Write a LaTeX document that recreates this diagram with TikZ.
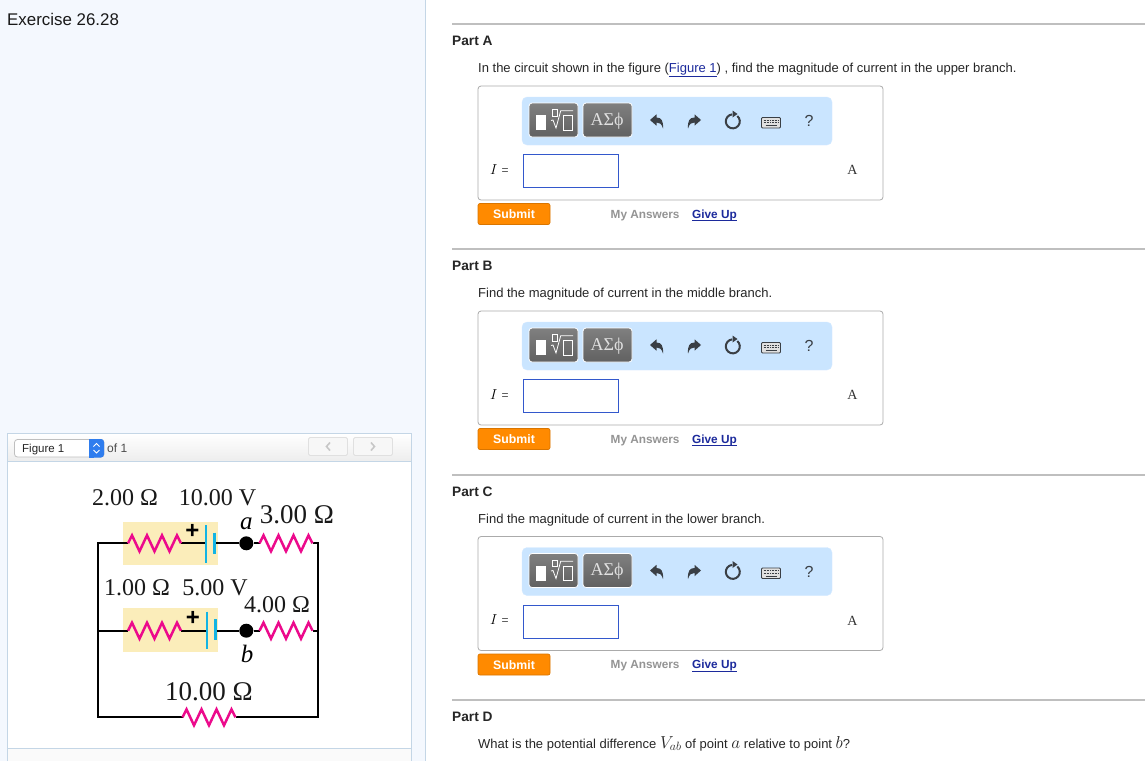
\documentclass[tikz,border=0pt]{standalone}
\usepackage{fontspec}
\setmainfont{Liberation Sans}
\newfontfamily\timesf{Liberation Serif}
\definecolor{sidebg}{HTML}{F4F8FE}
\definecolor{sideline}{HTML}{C4D6E6}
\definecolor{pink}{HTML}{EC0A8C}
\definecolor{plate}{HTML}{12B4E4}
\definecolor{yel}{HTML}{FBEDBA}
\definecolor{tool}{HTML}{CAE5FF}
\definecolor{orangeb}{HTML}{FF8A00}
\definecolor{navy}{HTML}{1C2A9C}
\definecolor{iconc}{HTML}{3A3F45}
\definecolor{selblue}{HTML}{2F7DEE}
\definecolor{inputblue}{HTML}{3358CC}
\tikzset{
  wire/.style={draw=black,line width=2pt},
  resistor/.style={draw=pink,line width=2.5pt,line join=miter},
  plateline/.style={draw=plate,line width=2.5pt},
  hl/.style={fill=yel,draw=none},
  dotnode/.style={circle,fill=black,draw=none,inner sep=0pt,minimum size=14pt},
  val/.style={font=\timesf\fontsize{24}{24}\selectfont,inner sep=0pt,text=black!90},
  valbig/.style={font=\timesf\fontsize{27}{27}\selectfont,inner sep=0pt,text=black!90},
  ital/.style={font=\timesf\itshape\fontsize{25}{25}\selectfont,inner sep=0pt},
  plus/.style={font=\fontsize{24}{24}\selectfont\bfseries,inner sep=0pt},
  ui/.style={inner sep=0pt,anchor=base west,text=black!85},
  lab/.style={ui,font=\fontsize{13}{15}\selectfont},
  parthead/.style={ui,font=\fontsize{13.7}{15}\selectfont\bfseries},
  answerbox/.style={draw=black!33,fill=white,rounded corners=3pt,line width=.8pt},
  toolbar/.style={fill=tool,draw=tool!80!white,rounded corners=5pt},
  toolbtn/.style={draw=white,line width=.8pt,rounded corners=3pt,top color=black!50,bottom color=black!62},
  submitbtn/.style={draw=orangeb!85!black,fill=orangeb,rounded corners=2pt,line width=.7pt},
  navbtn/.style={draw=black!12,fill=black!3,rounded corners=1.5pt,line width=.8pt},
  undoicon/.pic={\fill[iconc] (-6.5,0) -- (0,-5.7) -- (0,-2.5) .. controls (5,-2.5) and (7,1) .. (6.5,8.5) .. controls (5,3.5) and (3,2.5) .. (0,2.5) -- (0,5.7) -- cycle;},
}
\newcommand{\zig}[1]{\draw[resistor] (#1) -- ++(4,-8) -- ++(7.5,16) -- ++(7.5,-16) -- ++(7.5,16) -- ++(7.5,-16) -- ++(7.5,16) -- ++(7.5,-16) -- ++(4,8);}
\newcommand{\partpanel}[2]{%
\begin{scope}[shift={(0,#2)}]
  \draw[answerbox] (478,86) rectangle (883,200);
  \draw[toolbar] (522,97) rectangle (832,145);
  \draw[toolbtn] (529,103) rectangle (578,137);
  \draw[toolbtn] (583,103) rectangle (632,137);
  \fill[white] (536,115) rectangle (546,130);
  \draw[white,line width=.7pt] (552,109.5) rectangle (557,116);
  \draw[white,line width=.8pt] (551,120.5) -- (553,120) -- (556,128) -- (560.7,110.7) -- (573,110.7);
  \draw[white,line width=.7pt] (563.5,115.5) rectangle (572.7,130);
  \node[inner sep=0pt,text=white!88!black,font=\timesf\fontsize{18}{20}\selectfont] (sym#1) at (607,121) {ΑΣϕ};
  \pic at (656.5,120) {undoicon};
  \pic[xscale=-1] at (694.5,120) {undoicon};
  \draw[iconc,line width=2pt] (737.3,116) arc[start angle=-50,end angle=265,radius=7];
  \fill[iconc] (737.5,114) -- (732.5,110.5) -- (732.5,117.5) -- cycle;
  \draw[iconc,fill=black!12,line width=.9pt,rounded corners=1pt] (761.5,117.5) rectangle (780.5,128);
  \draw[iconc,line width=1pt,dash pattern=on .9pt off .7pt] (763.5,120) -- (778.5,120);
  \draw[iconc,line width=1pt,dash pattern=on .9pt off .7pt] (763.5,122.5) -- (778.5,122.5);
  \draw[iconc,line width=1pt] (765.5,125.5) -- (776.5,125.5);
  \node[inner sep=0pt,text=iconc,font=\fontsize{16}{18}\selectfont] (help#1) at (809,121) {?};
  \node[inner sep=0pt,anchor=base west,font=\fontsize{13.5}{15}\selectfont] (ivar#1) at (490,174) {$I$};
  \node[inner sep=0pt,anchor=base west,text=black!70,font=\fontsize{12}{14}\selectfont] (ieq#1) at (501.5,174) {=};
  \draw[draw=inputblue,line width=1pt,fill=white] (523.5,154.5) rectangle (618.5,187.5);
  \node[inner sep=0pt,text=black!80,font=\timesf\fontsize{14}{16}\selectfont] (unit#1) at (852.5,170) {A};
  \draw[submitbtn] (478,203.5) rectangle (550,224.5);
  \node[inner sep=0pt,text=white,font=\fontsize{12.3}{14}\selectfont\bfseries] (sub#1) at (514,214.3) {Submit};
  \node[ui,text=black!42,font=\fontsize{11.8}{14}\selectfont\bfseries] (my#1) at (610.5,218) {My Answers};
  \node[ui,text=navy,font=\fontsize{11.8}{14}\selectfont\bfseries] (give#1) at (692,218) {Give Up};
  \draw[navy,line width=.7pt] (692,220.5) -- (737,220.5);
\end{scope}}
\begin{document}
\begin{tikzpicture}[x=1pt,y=-1pt]
\useasboundingbox (0,0) rectangle (1145,761);
\fill[white] (0,0) rectangle (1145,761);
% sidebar
\fill[sidebg] (0,0) rectangle (425,761);
\draw[sideline,line width=1pt] (425.5,0) -- (425.5,761);
\node[ui,font=\fontsize{16.9}{20}\selectfont,text=black!90] (title) at (7,25) {Exercise 26.28};
% figure panel
\fill[white] (7.5,461) rectangle (411,748);
\shade[top color=white,bottom color=black!7] (7.5,433.5) rectangle (411,461);
\fill[black!2] (7.5,748) rectangle (411,761);
\draw[sideline,line width=1pt] (7.5,761) -- (7.5,433.5) -- (411,433.5) -- (411,761);
\draw[sideline,line width=1pt] (7.5,461) -- (411,461);
\draw[sideline,line width=1pt] (7.5,748.5) -- (411,748.5);
\draw[black!25,fill=white,rounded corners=3pt,line width=.8pt] (14.5,439.5) rectangle (104,457);
\fill[selblue,rounded corners=3pt] (89,439) rectangle (104,457.5);
\fill[selblue] (89,439) rectangle (94,457.5);
\draw[white,line width=.9pt] (93.5,446.5) -- (96.5,443.5) -- (99.5,446.5);
\draw[white,line width=.9pt] (93.5,450) -- (96.5,453) -- (99.5,450);
\node[ui,font=\fontsize{11.5}{14}\selectfont] (figsel) at (22,452) {Figure 1};
\node[ui,font=\fontsize{12}{14}\selectfont,text=black!70] (ofone) at (107,452) {of 1};
\draw[navbtn] (308.5,437.5) rectangle (347.5,455.5);
\draw[navbtn] (353.5,437.5) rectangle (392.5,455.5);
\draw[black!22,line width=1.6pt] (330,442.5) -- (326.5,446.5) -- (330,450.5);
\draw[black!22,line width=1.6pt] (371,442.5) -- (374.5,446.5) -- (371,450.5);
% circuit
\fill[hl] (123.3,521.7) rectangle (217.7,565);
\fill[hl] (123.3,607.7) rectangle (217.7,651.7);
\coordinate (tl) at (97.7,543.3);
\coordinate (tr) at (318.3,543.3);
\coordinate (ml) at (97.7,630.7);
\coordinate (mr) at (318.3,630.7);
\coordinate (bl) at (97.7,717.3);
\coordinate (br) at (318.3,717.3);
\coordinate (r1a) at (128,543.3);  \coordinate (r1b) at (181,543.3);
\coordinate (r2a) at (259.5,543.3);\coordinate (r2b) at (312.5,543.3);
\coordinate (r3a) at (128,630.7);  \coordinate (r3b) at (181,630.7);
\coordinate (r4a) at (259.5,630.7);\coordinate (r4b) at (312.5,630.7);
\coordinate (r5a) at (182.5,717.3);\coordinate (r5b) at (235.5,717.3);
\coordinate (p1) at (206,543.3);   \coordinate (s1) at (214.3,543.3);
\coordinate (p2) at (207,630.7);   \coordinate (s2) at (215.3,630.7);
\node[dotnode] (a) at (246.3,543.3) {};
\node[dotnode] (b) at (246.3,630.7) {};
\draw[wire,line join=miter] (r1a) -- (tl) -- (bl) -- (r5a);
\draw[wire,line join=miter] (r5b) -- (br) -- (tr) -- (r2b);
\draw[wire] (r3a) -- (ml);
\draw[wire] (r4b) -- (mr);
\draw[wire] (r1b) -- (p1);
\draw[wire] (s1) -- (a);
\draw[wire] (a) -- (r2a);
\draw[wire] (r3b) -- (p2);
\draw[wire] (s2) -- (b);
\draw[wire] (b) -- (r4a);
\zig{r1a}\zig{r2a}\zig{r3a}\zig{r4a}\zig{r5a}
\draw[plateline] (206,525) -- (206,562.7);
\draw[plateline] (214.3,532.7) -- (214.3,554);
\draw[plateline] (207,611.7) -- (207,649);
\draw[plateline] (215.3,619) -- (215.3,640.3);
\node[plus] (plusa) at (192.3,531.5) {+};
\node[plus] (plusb) at (193,618) {+};
\node[val] (v1) at (125,498) {2.00 Ω};
\node[val] (v2) at (217.5,498) {10.00 V};
\node[valbig] (v3) at (297,515) {3.00 Ω};
\node[val] (v4) at (137,588) {1.00 Ω};
\node[val] (v5) at (215,588) {5.00 V};
\node[val] (v6) at (277,604.5) {4.00 Ω};
\node[valbig] (v7) at (209,692) {10.00 Ω};
\node[ital] (la) at (246.3,524) {a};
\node[ital] (lb) at (247,654) {b};
% parts
\foreach \yy in {24,249,475,700} \draw[black!25,line width=1.4pt] (452,\yy) -- (1145,\yy);
\node[parthead] (pa) at (452,45) {Part A};
\node[parthead] (pb) at (452,270) {Part B};
\node[parthead] (pc) at (452,496) {Part C};
\node[parthead] (pd) at (452,721) {Part D};
\node[lab] (qa) at (478,72) {In the circuit shown in the figure (\textcolor{navy}{\underline{Figure 1}}) , find the magnitude of current in the upper branch.};
\node[lab] (qb) at (478,297) {Find the magnitude of current in the middle branch.};
\node[lab] (qc) at (478,523) {Find the magnitude of current in the lower branch.};
\node[lab] (qd) at (478,748) {What is the potential difference \fontsize{17}{17}\selectfont$V_{ab}$\fontsize{13}{15}\selectfont{} of point \fontsize{16}{16}\selectfont$a$\fontsize{13}{15}\selectfont{} relative to point \fontsize{16}{16}\selectfont$b$\fontsize{13}{15}\selectfont?};
\partpanel{A}{0}
\partpanel{B}{225}
\partpanel{C}{450.5}
\end{tikzpicture}
\end{document}
